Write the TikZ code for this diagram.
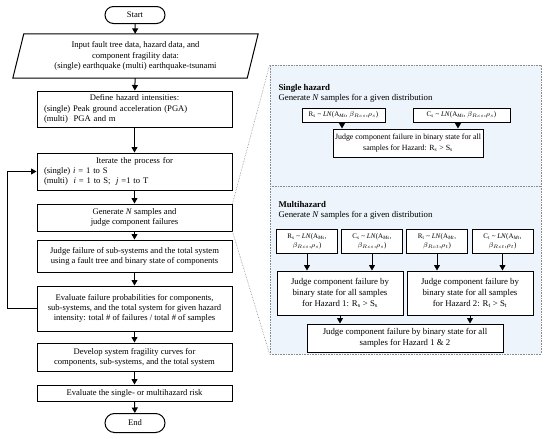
\documentclass[tikz,border=0pt]{standalone}
\usepackage{fontspec}
\setmainfont{Liberation Serif}
\usetikzlibrary{arrows.meta,calc}
\definecolor{panelfill}{RGB}{237,244,251}
\definecolor{dotgray}{RGB}{140,140,140}
\begin{document}
\begin{tikzpicture}[x=1pt,y=-1pt,
  every node/.style={font=\fontsize{8.6}{10.2}\selectfont},
  box/.style={draw, line width=1pt, fill=white, inner xsep=1pt, inner ysep=2pt, align=center, minimum width=195pt},
  lbox/.style={draw, line width=1pt, fill=white, inner xsep=7pt, inner ysep=2pt, align=left, text width=181pt},
  term/.style={draw, line width=1pt, fill=white, rounded corners=8.5pt, minimum width=60pt, minimum height=17pt, inner sep=1pt},
  rbox/.style={draw, line width=1pt, fill=white, inner sep=1pt, align=center, font=\fontsize{8.8}{11}\selectfont},
  fbox/.style={draw, line width=1pt, fill=white, inner sep=1pt, align=center, font=\fontsize{7}{9}\selectfont},
  arr/.style={line width=1pt, -{Triangle[length=5.5pt,width=6pt]}},
  callout/.style={dotgray, densely dotted, line width=0.6pt}]
\useasboundingbox (0,0) rectangle (550,439);

% right panel
\node[draw=dotgray, densely dotted, line width=0.6pt, fill=panelfill, minimum width=271pt, minimum height=289pt, inner sep=0] (panel) at (405.5,209.5) {};
\coordinate (divl) at (270,186);
\coordinate (divr) at (541,186);
\draw[callout] (divl) -- (divr);

% left column
\node[term] (start) at (135,15) {Start};
\node[inner sep=0, minimum width=234pt, minimum height=44pt, align=center] (input) at (135.5,56)
  {Input fault tree data, hazard data, and\\component fragility data:\\(single) earthquake (multi) earthquake-tsunami};
\draw[line width=1pt] ($(input.north west)+(5.5,0)$) -- ($(input.north east)+(5.5,0)$)
  -- ($(input.south east)+(-5.5,0)$) -- ($(input.south west)+(-5.5,0)$) -- cycle;
\node[lbox, minimum height=36pt] (define) at (134.5,109)
  {\makebox[181pt]{Define hazard intensities:}\\(single) Peak ground acceleration (PGA)\\(multi)\ \ PGA and m};
\node[lbox, minimum height=37pt] (iter) at (134.5,171.5)
  {\makebox[181pt]{Iterate the process for}\\(single) \textit{i} = 1 to S\\(multi)\ \ \textit{i} = 1 to S;\ \ \textit{j} =1 to T};
\node[box, minimum height=27pt] (gen) at (134.5,217.5) {Generate \textit{N} samples and\\judge component failures};
\node[box, minimum height=32pt] (judge) at (134.5,256) {Judge failure of sub-systems and the total system\\using a fault tree and binary state of components};
\node[box, minimum height=45pt] (eval) at (134.5,308.5) {Evaluate failure probabilities for components,\\sub-systems, and the total system for given hazard\\intensity: total \# of failures / total \# of samples};
\node[box, minimum height=28pt] (dev) at (134.5,357) {Develop system fragility curves for\\components, sub-systems, and the total system};
\node[box, minimum height=16pt] (risk) at (134.5,393) {Evaluate the single- or multihazard risk};
\node[term, minimum height=19pt, rounded corners=9.5pt] (end) at (135,423) {End};

\draw[arr] (start) -- (input);
\draw[arr] (input) -- (define);
\draw[arr] (define) -- (iter);
\draw[arr] (iter) -- (gen);
\draw[arr] (gen) -- (judge);
\draw[arr] (judge) -- (eval);
\draw[arr] (eval) -- (dev);
\draw[arr] (dev) -- (risk);
\draw[arr] (risk) -- (end);
\draw[arr] (eval.west) -- ++(-29,0) |- (iter.west);

% callout lines
\draw[callout] (gen.north east) -- (panel.north west);
\draw[callout] (gen.south east) -- (panel.south west);

% single hazard
\node[anchor=west, font=\fontsize{8.8}{11}\selectfont\bfseries] (shead) at (275,88) {Single hazard};
\node[anchor=west, font=\fontsize{8.8}{11}\selectfont] (sgen) at (275,98.5) {Generate \textit{N} samples for a given distribution};
\node[fbox, minimum width=83pt, minimum height=14pt] (sr) at (343.5,115)
  {R\textsubscript{s} \textasciitilde{} \textit{LN}(A\textsubscript{\textit{Ms}}, $\beta_{Rcs}$,$\rho_{s}$)};
\node[fbox, minimum width=97pt, minimum height=14pt] (sc) at (461.5,115)
  {C\textsubscript{s} \textasciitilde{} \textit{LN}(A\textsubscript{\textit{Ms}}, $\beta_{Rcs}$,$\rho_{s}$)};
\node[rbox, font=\fontsize{7.9}{10.5}\selectfont, minimum width=150pt, minimum height=28pt] (sj) at (408,143)
  {Judge component failure in binary state for all\\samples for Hazard: R\textsubscript{s} > S\textsubscript{s}};
\draw[arr] (sr.south -| 342,0) -- (sj.north -| 342,0);
\draw[arr] (sc.south -| 458,0) -- (sj.north -| 458,0);

% multihazard
\node[anchor=west, font=\fontsize{8.8}{11}\selectfont\bfseries] (mhead) at (275,204) {Multihazard};
\node[anchor=west, font=\fontsize{8.8}{11}\selectfont] (mgen) at (275,215) {Generate \textit{N} samples for a given distribution};
\node[fbox, minimum width=61pt, minimum height=24pt] (m1) at (307,241)
  {R\textsubscript{s} \textasciitilde{} \textit{LN}(A\textsubscript{\textit{Ms}},\\$\beta_{Rcs}$,$\rho_{s}$)};
\node[fbox, minimum width=61pt, minimum height=24pt] (m2) at (372,241)
  {C\textsubscript{s} \textasciitilde{} \textit{LN}(A\textsubscript{\textit{Ms}},\\$\beta_{Rcs}$,$\rho_{s}$)};
\node[fbox, minimum width=61pt, minimum height=24pt] (m3) at (437,241)
  {R\textsubscript{t} \textasciitilde{} \textit{LN}(A\textsubscript{\textit{Mt}},\\$\beta_{Rct}$,$\rho_{t}$)};
\node[fbox, minimum width=61pt, minimum height=24pt] (m4) at (502.5,241)
  {C\textsubscript{t} \textasciitilde{} \textit{LN}(A\textsubscript{\textit{Mt}},\\$\beta_{Rct}$,$\rho_{t}$)};
\node[rbox, minimum width=126pt, minimum height=44pt] (jl) at (340,293)
  {Judge component failure by\\binary state for all samples\\for Hazard 1: R\textsubscript{s} > S\textsubscript{s}};
\node[rbox, minimum width=126pt, minimum height=44pt] (jr) at (470,293)
  {Judge component failure by\\binary state for all samples\\for Hazard 2: R\textsubscript{t} > S\textsubscript{t}};
\node[rbox, minimum width=196pt, minimum height=28pt] (jall) at (405,338)
  {Judge component failure by binary state for all\\samples for Hazard 1 \& 2};
\draw[arr] (m1) -- (m1 |- jl.north);
\draw[arr] (m2) -- (m2 |- jl.north);
\draw[arr] (m3) -- (m3 |- jr.north);
\draw[arr] (m4) -- (m4 |- jr.north);
\draw[arr] (jl) -- (jl |- jall.north);
\draw[arr] (jr) -- (jr |- jall.north);
\end{tikzpicture}
\end{document}
